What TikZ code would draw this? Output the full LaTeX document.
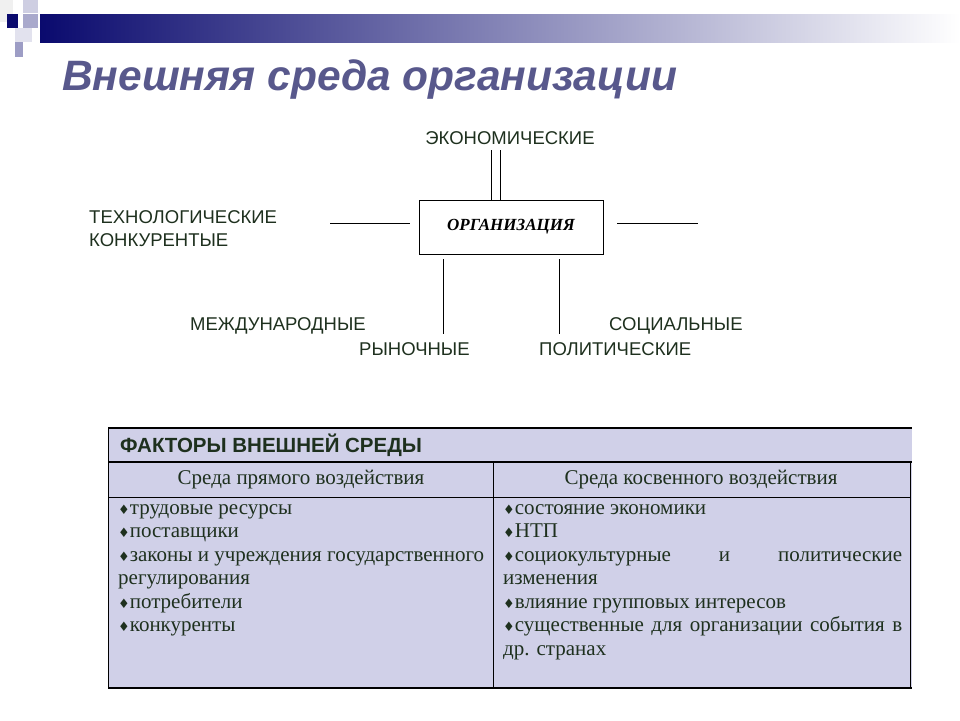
\documentclass[tikz,border=0pt]{standalone}
\usepackage{fontspec}
\setmainfont{Liberation Serif}
\setsansfont{Liberation Sans}
\newfontfamily\symfont{DejaVu Sans}
\usetikzlibrary{positioning}
\definecolor{txtgreen}{RGB}{30,48,30}
\definecolor{navyband}{RGB}{10,10,110}
\definecolor{titleblue}{RGB}{88,88,140}
\definecolor{tablefill}{RGB}{208,208,232}
\newcommand{\dmd}{{\symfont\fontsize{13}{12}\selectfont\char"2666}}
\tikzset{
  factor/.style={font=\sffamily\fontsize{18.5}{23}\selectfont, text=txtgreen, inner sep=0pt},
  link/.style={semithick, black},
  cell/.style={font=\fontsize{21}{23.5}\selectfont, text=txtgreen, inner sep=0pt, align=justify, anchor=north west}
}
\begin{document}
\begin{tikzpicture}[x=1pt,y=-1pt]
    \useasboundingbox (0,0) rectangle (960,720);
    % band and squares
    \shade[left color=navyband, right color=white] (40,14) rectangle (960,42);
    \fill[gray!12] (0,0) rectangle (13,22);
    \fill[navyband!20!white] (23,0) rectangle (38,13);
    \fill[navyband] (7,14) rectangle (18,28);
    \fill[navyband!35!white] (23,14) rectangle (38,28);
    \fill[navyband!12!white] (15,28) rectangle (32,42);
    \fill[navyband!40!white] (15,42) rectangle (23,57);
    \node[anchor=west, inner sep=0pt, text=titleblue, font=\sffamily\bfseries\itshape\fontsize{42.5}{46}\selectfont] (title) at (62,80) {Внешняя среда организации};

    % organisation and factors
    \node[draw, semithick, minimum width=184pt, minimum height=54pt, inner sep=0pt, font=\bfseries\itshape\fontsize{17}{19}\selectfont] (org) at (511,227) {ОРГАНИЗАЦИЯ};
    \node[factor] (econ) at (510,138) {ЭКОНОМИЧЕСКИЕ};
    \node[factor, anchor=west, align=left] (tech) at (89,229) {ТЕХНОЛОГИЧЕСКИЕ\\КОНКУРЕНТЫЕ};
    \node[factor, anchor=west] (intl) at (190,326) {МЕЖДУНАРОДНЫЕ};
    \node[factor, anchor=west] (market) at (359,349) {РЫНОЧНЫЕ};
    \node[factor, anchor=west] (social) at (609,326) {СОЦИАЛЬНЫЕ};
    \node[factor, anchor=west] (polit) at (539,349) {ПОЛИТИЧЕСКИЕ};

    \coordinate (e1) at (491,150); \coordinate (e2) at (500,150);
    \coordinate (l1) at (330,223); \coordinate (l2) at (410,223);
    \coordinate (r1) at (617,223); \coordinate (r2) at (698,223);
    \coordinate (b1) at (443,259); \coordinate (b2) at (443,334);
    \coordinate (c1) at (559,259); \coordinate (c2) at (559,334);
    \draw[link] (e1) -- (e1 |- org.north);
    \draw[link] (e2) -- (e2 |- org.north);
    \draw[link] (l1) -- (l2);
    \draw[link] (r1) -- (r2);
    \draw[link] (b1) -- (b2);
    \draw[link] (c1) -- (c2);

    % table
    \fill[tablefill] (108,428) rectangle (912,688);
    \draw[very thick] (108,428) -- (912,428);
    \draw[very thick] (108,462) -- (912,462);
    \draw[thick] (108,497) -- (910,497);
    \draw[very thick] (108,688) -- (912,688);
    \draw[thick] (108,428) -- (108,688);
    \draw[thick] (910,462) -- (910,688);
    \draw[semithick] (493,462) -- (493,688);
    \node[anchor=west, inner sep=0pt, text=txtgreen, font=\sffamily\bfseries\fontsize{20.5}{22}\selectfont] (head) at (120,445) {ФАКТОРЫ ВНЕШНЕЙ СРЕДЫ};
    \node[font=\fontsize{21}{22}\selectfont, text=txtgreen, inner sep=0pt] (direct) at (301,480) {Среда прямого воздействия};
    \node[font=\fontsize{21}{22}\selectfont, text=txtgreen, inner sep=0pt] (indirect) at (701,480) {Среда косвенного воздействия};
    \node[cell, text width=366pt] (left) at (118,504) {\dmd трудовые ресурсы\\
      \dmd поставщики\\
      \dmd законы и учреждения государственного регулирования\\
      \dmd потребители\\
      \dmd конкуренты};
    \node[cell, text width=399pt] (right) at (503,504) {\dmd состояние экономики\\
      \dmd НТП\\
      \dmd социокультурные и политические изменения\\
      \dmd влияние групповых интересов\\
      \dmd существенные для организации события в др. странах};
\end{tikzpicture}
\end{document}
